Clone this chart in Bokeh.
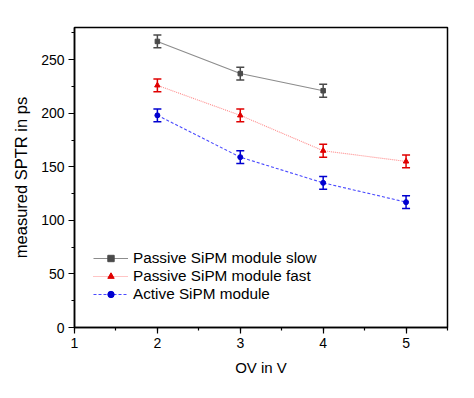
from bokeh.plotting import figure
from bokeh.models import ColumnDataSource, Whisker, TeeHead, SingleIntervalTicker, Range1d, Legend, LegendItem
from bokeh.embed import file_html
from bokeh.resources import INLINE

ov_slow = [2, 3, 4]
sptr_slow = [267, 237, 221]
err_slow = [6, 6, 6]

ov_fast = [2, 3, 4, 5]
sptr_fast = [226, 198, 165, 155]
err_fast = [6, 6, 6, 6]

ov_active = [2, 3, 4, 5]
sptr_active = [198, 159, 135, 117]
err_active = [6, 6, 6, 6]

labels = ["Passive SiPM module slow", "Passive SiPM module fast", "Active SiPM module"]

p = figure(width=458, height=382, output_backend="svg", toolbar_location=None,
           x_range=Range1d(1, 5.5), y_range=Range1d(0, 280),
           min_border_left=74, min_border_right=11, min_border_top=27, min_border_bottom=55)
p.xgrid.visible = False
p.ygrid.visible = False
p.outline_line_color = "black"
p.outline_line_width = 1.5
p.background_fill_color = "white"
p.border_fill_color = "white"

font = "Liberation Sans"
for ax in (p.xaxis[0], p.yaxis[0]):
    ax.axis_line_width = 1.5
    ax.axis_line_color = "black"
    ax.major_tick_line_color = "black"
    ax.minor_tick_line_color = "black"
    ax.major_tick_line_width = 1.2
    ax.minor_tick_line_width = 1.2
    ax.major_tick_out = 6
    ax.major_tick_in = 0
    ax.minor_tick_out = 3
    ax.minor_tick_in = 0
    ax.major_label_text_font = font
    ax.major_label_text_font_size = "14px"
    ax.major_label_text_color = "black"
    ax.major_label_standoff = 4
    ax.axis_label_text_font = font
    ax.axis_label_text_font_style = "normal"
    ax.axis_label_text_color = "black"

p.xaxis.ticker = SingleIntervalTicker(interval=1, num_minor_ticks=2)
p.yaxis.ticker = SingleIntervalTicker(interval=50, num_minor_ticks=2)
p.xaxis.axis_label = "OV in V"
p.yaxis.axis_label = "measured SPTR in ps"
p.xaxis.axis_label_text_font_size = "15px"
p.yaxis.axis_label_text_font_size = "16.5px"
p.xaxis.axis_label_standoff = 8
p.yaxis.axis_label_standoff = 8

series = [
    (ov_slow, sptr_slow, err_slow, "#8c8c8c", "#4a4a4a", "solid", "square", 4.5),
    (ov_fast, sptr_fast, err_fast, "#ff8a8a", "#e00000", "1 1", "triangle", 5.5),
    (ov_active, sptr_active, err_active, "#4a4aff", "#0000d0", "3 2", "circle", 5),
]

items = []
for (xs, ys, es, lc, mc, dash, marker, ms), lab in zip(series, labels):
    src = ColumnDataSource(dict(x=xs, y=ys,
                                lo=[y - e for y, e in zip(ys, es)],
                                hi=[y + e for y, e in zip(ys, es)]))
    ln = p.line("x", "y", source=src, line_color=lc, line_width=1.1, line_dash=dash)
    w = Whisker(source=src, base="x", upper="hi", lower="lo", line_color=mc, line_width=1.5,
                upper_head=TeeHead(size=8, line_color=mc, line_width=1.5),
                lower_head=TeeHead(size=8, line_color=mc, line_width=1.5))
    p.add_layout(w)
    sc = p.scatter("x", "y", source=src, marker=marker, size=ms, fill_color=mc, line_color=mc)
    items.append(LegendItem(label=lab, renderers=[ln, sc]))

legend = Legend(items=items, location=(19, 24), label_text_font=font, label_text_font_size="15.3px",
                label_text_color="black", border_line_color=None, background_fill_alpha=0,
                glyph_width=35, glyph_height=16, spacing=0, padding=4, label_standoff=5,
                label_height=16)
p.add_layout(legend, "center")

open("out.html", "w").write(file_html(p, INLINE))
